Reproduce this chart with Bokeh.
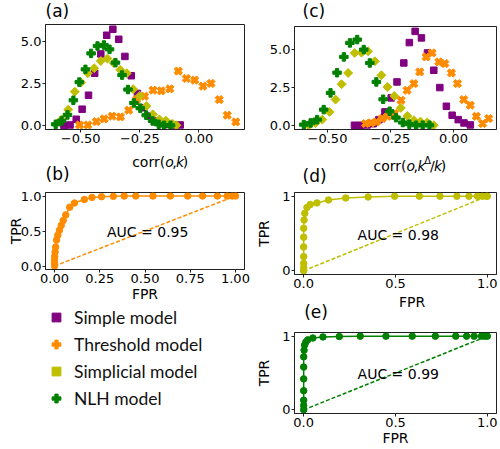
import math
from bokeh.plotting import figure
from bokeh.models import Range1d, FixedTicker, Label, Legend, LegendItem
from bokeh.layouts import row, column
from bokeh.embed import file_html
from bokeh.resources import INLINE

# ---------------- data ----------------
# (a) distribution of corr(o,k)
simple_a_x = [-0.571, -0.545, -0.519, -0.494, -0.467, -0.441, -0.415, -0.390, -0.364, -0.339,
              -0.313, -0.286, -0.260, -0.234, -0.209, -0.183, -0.156, -0.130, -0.104, -0.079]
simple_a_y = [0.0, 0.02, 0.36, 0.96, 1.79, 3.1, 4.25, 5.36, 5.72, 5.12,
              4.1, 2.95, 1.9, 1.05, 0.55, 0.25, 0.1, 0.05, 0.02, 0.02]
thresh_a_x = [-0.505, -0.470, -0.434, -0.401, -0.367, -0.332, -0.297, -0.263, -0.230, -0.194,
              -0.159, -0.123, -0.087, -0.053, -0.018, 0.017, 0.051, 0.086, 0.120, 0.156]
thresh_a_y = [0.02, 0.02, 0.22, 0.38, 0.54, 0.50, 0.90, 1.53, 1.73, 2.09,
              2.05, 2.17, 3.23, 2.79, 2.69, 2.33, 2.49, 1.53, 0.60, 0.20]
simpl_a_x = [-0.581, -0.553, -0.525, -0.498, -0.470, -0.443, -0.415, -0.387, -0.360, -0.333,
             -0.305, -0.278, -0.250, -0.222, -0.195, -0.167, -0.140, -0.112, -0.095]
simpl_a_y = [0.35, 0.93, 2.0, 2.55, 3.1, 3.4, 3.83, 3.97, 3.7, 3.3,
             3.1, 2.15, 1.75, 1.15, 0.65, 0.35, 0.28, 0.1, 0.0]
nlh_a_x = [-0.606, -0.581, -0.556, -0.531, -0.506, -0.480, -0.456, -0.429, -0.402, -0.378,
           -0.353, -0.325, -0.300, -0.275, -0.248, -0.223, -0.196, -0.170, -0.147, -0.120]
nlh_a_y = [0.06, 0.26, 0.62, 1.49, 2.57, 3.33, 4.28, 4.72, 4.78, 4.52,
           3.73, 2.99, 2.13, 1.33, 1.02, 0.60, 0.26, 0.06, 0.0, 0.0]

# (c) distribution of corr(o,k^Δ/k)
simple_c_x = [-0.393, -0.369, -0.343, -0.319, -0.296, -0.272, -0.247, -0.224, -0.197, -0.175,
              -0.152, -0.127, -0.103, -0.078, -0.054, -0.028, -0.005, 0.019, 0.042, 0.067]
simple_c_y = [0.0, 0.0, 0.02, 0.1, 0.37, 0.88, 1.8, 2.85, 4.1, 5.44,
              6.18, 5.75, 4.76, 3.62, 2.48, 1.25, 0.66, 0.37, 0.15, 0.02]
thresh_c_x = [-0.349, -0.327, -0.306, -0.283, -0.261, -0.234, -0.208, -0.184, -0.157, -0.134,
              -0.108, -0.085, -0.058, -0.034, -0.008, 0.016, 0.041, 0.067, 0.091, 0.116, 0.140]
thresh_c_y = [0.11, 0.15, 0.22, 0.44, 0.59, 0.77, 1.64, 2.3, 2.74, 3.51,
              4.5, 4.76, 4.17, 4.06, 3.44, 2.74, 1.69, 1.32, 0.59, 0.11, 0.44]
simpl_c_x = [-0.574, -0.548, -0.521, -0.492, -0.468, -0.444, -0.418, -0.392, -0.365, -0.339,
             -0.312, -0.286, -0.262, -0.235, -0.209, -0.183, -0.157, -0.131, -0.104, -0.078]
simpl_c_y = [0.0, 0.15, 0.37, 0.88, 1.69, 2.7, 3.44, 4.76, 4.78, 4.87,
             4.21, 3.29, 2.52, 1.93, 1.14, 0.61, 0.33, 0.24, 0.18, 0.0]
nlh_c_x = [-0.594, -0.567, -0.541, -0.515, -0.488, -0.462, -0.435, -0.411, -0.382, -0.356,
           -0.332, -0.306, -0.279, -0.253, -0.228, -0.201, -0.175, -0.148, -0.122, -0.095]
nlh_c_y = [0.04, 0.15, 0.37, 1.03, 2.13, 3.46, 4.5, 5.42, 5.64, 4.98,
           4.1, 2.85, 1.71, 0.92, 0.5, 0.18, 0.07, 0.0, 0.0, 0.0]

# ROC curves
fpr_b = [0.0, 0.0, 0.0, 0.001, 0.003, 0.006, 0.011, 0.018, 0.027, 0.037, 0.048, 0.062, 0.084, 0.11,
         0.165, 0.207, 0.26, 0.325, 0.385, 0.449, 0.544, 0.64, 0.736, 0.818, 0.9, 0.954, 0.982, 1.0]
tpr_b = [0.0, 0.04, 0.09, 0.14, 0.2, 0.27, 0.37, 0.44, 0.51, 0.58, 0.65, 0.73, 0.84, 0.9,
         0.95, 0.98, 0.99, 0.995, 1.0, 1.0, 1.0, 1.0, 1.0, 1.0, 1.0, 1.0, 1.0, 1.0]
fpr_d = [0.0, 0.0, 0.0, 0.0, 0.0, 0.0, 0.0, 0.002, 0.006, 0.018, 0.036, 0.072, 0.135, 0.229,
         0.351, 0.495, 0.63, 0.742, 0.834, 0.9, 0.946, 0.973, 0.995, 1.0]
tpr_d = [0.0, 0.04, 0.1, 0.19, 0.32, 0.45, 0.57, 0.68, 0.77, 0.85, 0.89, 0.91, 0.95, 0.977,
         0.99, 1.0, 1.0, 1.0, 1.0, 1.0, 1.0, 1.0, 1.0, 1.0]
fpr_e = [0.0, 0.0, 0.0, 0.0, 0.0, 0.0, 0.0, 0.002, 0.005, 0.012, 0.022, 0.05, 0.105, 0.194,
         0.308, 0.448, 0.591, 0.717, 0.828, 0.887, 0.928, 0.968, 0.986, 1.0]
tpr_e = [0.0, 0.06, 0.13, 0.26, 0.42, 0.58, 0.72, 0.81, 0.88, 0.92, 0.95, 0.975, 0.99, 0.995,
         1.0, 1.0, 1.0, 1.0, 1.0, 1.0, 1.0, 1.0, 1.0, 1.0]
diag = [0.0, 1.0]
auc_texts = ["AUC = 0.95", "AUC = 0.98", "AUC = 0.99"]
model_names = ["Simple model", "Threshold model", "Simplicial model", "NLH model"]
panel_tags = ["(a)", "(b)", "(c)", "(d)", "(e)"]

PURPLE, ORANGE, OLIVE, GREEN = "#800080", "#ff8c00", "#bfbf00", "#008000"
FRAME = "#222222"


def make_fig(w, h, xr, yr, mb):
    p = figure(width=w, height=h, x_range=Range1d(*xr), y_range=Range1d(*yr),
               output_backend="svg", toolbar_location=None, title=None,
               min_border_left=mb[0], min_border_right=mb[1],
               min_border_top=mb[2], min_border_bottom=mb[3])
    p.grid.visible = False
    p.outline_line_color = FRAME
    p.outline_line_width = 1
    p.border_fill_color = "white"
    for ax in (p.xaxis[0], p.yaxis[0]):
        ax.axis_line_color = FRAME
        ax.major_tick_line_color = FRAME
        ax.major_tick_in = 0
        ax.major_tick_out = 3
        ax.minor_tick_line_color = None
        ax.major_label_text_font = "DejaVu Sans"
        ax.major_label_text_font_size = "13px"
        ax.major_label_text_color = "black"
        ax.major_label_standoff = 1
        ax.axis_label_text_font = "DejaVu Sans"
        ax.axis_label_text_font_size = "14px"
        ax.axis_label_text_font_style = "normal"
        ax.axis_label_text_color = "black"
        ax.axis_label_standoff = 0
    return p


def strip(h):
    """A text-only band; its data units are pixels (x from left, y from top)."""
    s = figure(width=250, height=h, x_range=Range1d(0, 250), y_range=Range1d(h, 0),
               output_backend="svg", toolbar_location=None, title=None,
               x_axis_location=None, y_axis_location=None,
               min_border_left=0, min_border_right=0, min_border_top=0, min_border_bottom=0)
    s.grid.visible = False
    s.outline_line_color = None
    s.border_fill_color = "white"
    return s


def txt(s, text, x, y, size="14px", font="DejaVu Sans", style="normal",
        align="left", baseline="alphabetic"):
    s.add_layout(Label(x=x, y=y, text=text, text_font=font, text_font_size=size,
                       text_font_style=style, text_align=align, text_baseline=baseline,
                       text_color="black"))


def tag(s, text, x, ymid):
    txt(s, text, x, ymid, size="17px", font="DejaVu Sans", baseline="middle")


def set_ticks(axis, ticks, labels):
    axis.ticker = FixedTicker(ticks=ticks)
    axis.major_label_overrides = {t: l for t, l in zip(ticks, labels)}


# advance widths (em) of DejaVu Sans, used to join the label's pieces
DV = {"c": 0.550, "o": 0.612, "r": 0.411, "(": 0.390, ")": 0.390, ",": 0.318,
      "k": 0.579, "/": 0.337, "Δ": 0.684}


def rich_label(s, segments, xcenter, baseline, fs=14):
    widths = [sum(DV[ch] for ch in t) * fs * sc for (t, st, sc, rise) in segments]
    x = xcenter - sum(widths) / 2 + widths[0]
    # first piece is right-aligned on the joint, the rest run to the right of it
    t, st, sc, rise = segments[0]
    txt(s, t, x, baseline - rise, size=f"{fs * sc:.1f}px", style=st, align="right")
    for (t, st, sc, rise), w in zip(segments[1:], widths[1:]):
        txt(s, t, x, baseline - rise, size=f"{fs * sc:.1f}px", style=st, align="left")
        x += w + 0.3


def scatter_set(p, sx, sy, tx, ty, lx, ly, nx, ny, visible=True):
    r1 = p.scatter(sx, sy, marker="square", size=6.5, fill_color=PURPLE, line_color=PURPLE, visible=visible)
    r2 = p.scatter(tx, ty, marker="plus", angle=math.pi / 4, size=8.5, fill_color=ORANGE,
                   line_color=ORANGE, visible=visible)
    r3 = p.scatter(lx, ly, marker="square", angle=math.pi / 4, size=6.3, fill_color=OLIVE,
                   line_color=OLIVE, visible=visible)
    r4 = p.scatter(nx, ny, marker="plus", size=8.5, fill_color=GREEN, line_color=GREEN, visible=visible)
    return [r1, r2, r3, r4]


def roc_fig(h, mb, fpr, tpr, color, auc, xt, xl, yt, yl, ylab_standoff, xlabel=True):
    p = make_fig(250, h, (-0.05, 1.05), (-0.05, 1.05), mb)
    set_ticks(p.xaxis[0], xt, xl)
    set_ticks(p.yaxis[0], yt, yl)
    if xlabel:
        p.xaxis[0].axis_label = "FPR"
    p.yaxis[0].axis_label = "TPR"
    p.yaxis[0].axis_label_standoff = ylab_standoff
    p.line(diag, diag, line_color=color, line_width=1.5, line_dash="4 2")
    p.line(fpr, tpr, line_color=color, line_width=1.5)
    p.scatter(fpr, tpr, marker="circle", size=6.5, fill_color=color, line_color=color)
    p.add_layout(Label(x=0.515, y=0.48, text=auc, text_font="DejaVu Sans", text_font_size="14px",
                       text_align="center", text_baseline="middle", text_color="black"))
    return p


corr_k = [("corr(", "normal", 1, 0), ("o", "italic", 1, 0), (",", "normal", 1, 0),
          ("k", "italic", 1, 0), (")", "normal", 1, 0)]
corr_kd = [("corr(", "normal", 1, 0), ("o", "italic", 1, 0), (",", "normal", 1, 0),
           ("k", "italic", 1, 0), ("Δ", "normal", 0.7, 5.5), ("/", "normal", 1, 0),
           ("k", "italic", 1, 0), (")", "normal", 1, 0)]

# ================= left column =================
s1 = strip(23)
tag(s1, panel_tags[0], 0, 10)

pa = make_fig(250, 125, (-0.649, 0.193), (-0.25, 6.0), (45, 2, 1, 19))
set_ticks(pa.xaxis[0], [-0.5, -0.25, 0.0], ["\u22120.50", "\u22120.25", "0.00"])
set_ticks(pa.yaxis[0], [0.0, 2.5, 5.0], ["0.0", "2.5", "5.0"])
scatter_set(pa, simple_a_x, simple_a_y, thresh_a_x, thresh_a_y, simpl_a_x, simpl_a_y, nlh_a_x, nlh_a_y)

s2 = strip(37)
rich_label(s2, corr_k, 147, 13)
tag(s2, panel_tags[1], 0, 25)

pb = roc_fig(120, (43, 6, 7, 36), fpr_b, tpr_b, ORANGE, auc_texts[0],
             [0.0, 0.25, 0.5, 0.75, 1.0], ["0.00", "0.25", "0.50", "0.75", "1.00"],
             [0.0, 0.5, 1.0], ["0.0", "0.5", "1.0"], -6)

pl = figure(width=250, height=144, x_range=Range1d(-0.65, 0.2), y_range=Range1d(-0.3, 6.0),
            output_backend="svg", toolbar_location=None, title=None,
            x_axis_location=None, y_axis_location=None,
            min_border_left=41, min_border_top=1, min_border_right=0, min_border_bottom=0)
pl.grid.visible = False
pl.outline_line_color = None
leg_r = scatter_set(pl, simple_a_x, simple_a_y, thresh_a_x, thresh_a_y, simpl_a_x, simpl_a_y,
                    nlh_a_x, nlh_a_y, visible=False)
legend = Legend(items=[LegendItem(label=n, renderers=[r]) for n, r in zip(model_names, leg_r)],
                location="top_left", padding=10, margin=0, spacing=5,
                glyph_width=22, glyph_height=22, label_height=22, label_standoff=7,
                label_text_font="Lato", label_text_font_size="17.5px", label_text_color="#111111",
                border_line_color=None, background_fill_alpha=0, inactive_fill_alpha=0)
pl.add_layout(legend)

# ================= right column =================
s3 = strip(25)
tag(s3, panel_tags[2], 10, 10)

pc = make_fig(250, 125, (-0.631, 0.171), (-0.28, 6.5), (44, 4, 1, 21))
set_ticks(pc.xaxis[0], [-0.5, -0.25, 0.0], ["\u22120.50", "\u22120.25", "0.00"])
set_ticks(pc.yaxis[0], [0.0, 2.5, 5.0], ["0.0", "2.5", "5.0"])
scatter_set(pc, simple_c_x, simple_c_y, thresh_c_x, thresh_c_y, simpl_c_x, simpl_c_y, nlh_c_x, nlh_c_y)

s4 = strip(36)
rich_label(s4, corr_kd, 145, 15)
tag(s4, panel_tags[3], 10, 25.5)

pd_ = roc_fig(107, (44, 3, 6, 19), fpr_d, tpr_d, OLIVE, auc_texts[1],
              [0.0, 0.5, 1.0], ["0.0", "0.5", "1.0"], [0.0, 1.0], ["0", "1"], 7, xlabel=False)

s5 = strip(34)
txt(s5, "FPR", 145.5, 8.5, align="center", baseline="middle")
tag(s5, panel_tags[4], 12, 18)

pe = roc_fig(122, (44, 2, 5, 36), fpr_e, tpr_e, GREEN, auc_texts[2],
             [0.0, 0.5, 1.0], ["0.0", "0.5", "1.0"], [0.0, 1.0], ["0", "1"], 7)

left = column(s1, pa, s2, pb, pl, spacing=0)
right = column(s3, pc, s4, pd_, s5, pe, spacing=0)
root = row(left, right, spacing=0)

open("out.html", "w").write(file_html(root, INLINE))
